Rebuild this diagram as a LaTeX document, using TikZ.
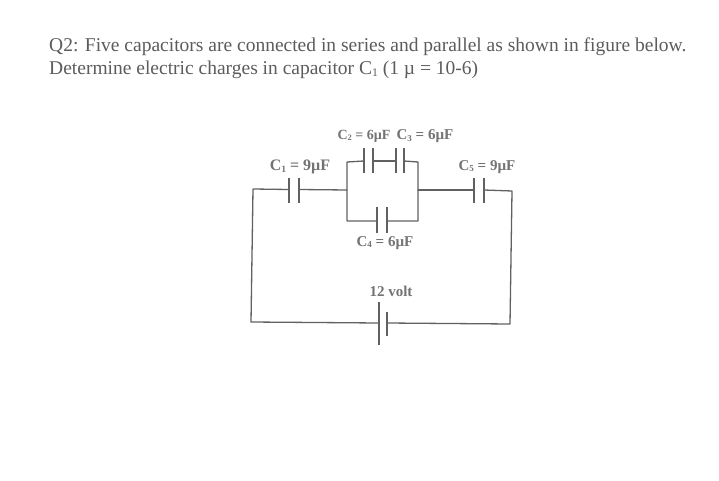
\documentclass[tikz,border=0pt]{standalone}
\usepackage{fontspec}
\setmainfont{Liberation Serif}
\newcommand{\subn}[1]{\raisebox{-0.2ex}{\scalebox{0.6}{#1}}}
\definecolor{inkhead}{gray}{0.36}
\definecolor{inkwire}{gray}{0.38}
\definecolor{inklabel}{gray}{0.45}
\tikzset{
  wire/.style={draw=inkwire,line width=1.3pt,line cap=round,line join=round},
  plate/.style={draw=inkwire,line width=1.3pt,line cap=butt},
  headline/.style={inner sep=0pt,anchor=base west,text=inkhead,font=\fontsize{19.5pt}{22pt}\selectfont},
  caplabel/.style={inner sep=0pt,text=inklabel,font=\fontsize{15pt}{17pt}\selectfont\bfseries},
}
\begin{document}
\begin{tikzpicture}[x=1pt,y=-1pt]
\useasboundingbox (0,0) rectangle (719,481);
\fill[white] (0,0) rectangle (719,481);
% text
\node[headline] (line1) at (49,52) {Q2: Five capacitors are connected in series and parallel as shown in figure below.};
\node[headline] (line2) at (49,75) {Determine electric charges in capacitor C\subn{1} (1 µ = 10-6)};
\node[caplabel,font=\fontsize{16pt}{18pt}\selectfont\bfseries] (c1lab) at (300,167) {C\subn{1} = 9µF};
\node[caplabel,font=\fontsize{14pt}{16pt}\selectfont\bfseries] (c2lab) at (364,136.5) {C\subn{2} = 6µF};
\node[caplabel] (c3lab) at (425,136.5) {C\subn{3} = 6µF};
\node[caplabel] (c4lab) at (385,243) {C\subn{4} = 6µF};
\node[caplabel] (c5lab) at (487,167) {C\subn{5} = 9µF};
\node[caplabel] (vlab) at (391,291) {12 volt};
% corners and junctions
\coordinate (tl) at (253,189);
\coordinate (bl) at (251,322);
\coordinate (tr) at (512,191);
\coordinate (br) at (510,324);
\coordinate (jl) at (347,190);
\coordinate (jr) at (418,190);
\coordinate (jlt) at (347,162);
\coordinate (jrt) at (418,162);
\coordinate (jlb) at (347,221);
\coordinate (jrb) at (418,221);
% plate centres
\coordinate (c1a) at (289,189.5);
\coordinate (c1b) at (299,189.5);
\coordinate (c2a) at (364,161);
\coordinate (c2b) at (373,161);
\coordinate (c3a) at (396,161);
\coordinate (c3b) at (404,161);
\coordinate (c4a) at (377,221);
\coordinate (c4b) at (387,221);
\coordinate (c5a) at (474,190);
\coordinate (c5b) at (484,190);
\coordinate (ba) at (379,323);
\coordinate (bb) at (387,323);
% plates
\foreach \p/\u/\d in {c1a/12/13,c1b/12/13,c2a/13/12,c2b/13/12,c3a/13/12,c3b/13/12,c4a/14/12,c4b/14/12,c5a/12/13,c5b/12/13,ba/21/22,bb/11/13}
  \draw[plate] ([yshift=\u pt]\p) -- ([yshift=-\d pt]\p);
% wires
\draw[wire] (c1a) -- (tl) -- (bl) -- (ba);
\draw[wire] (bb) -- (br) -- (tr) -- (c5b);
\draw[wire] (c1b) -- (jl);
\draw[wire] (c5a) -- (jr);
\draw[wire] (c2a) -- (jlt) -- (jlb) -- (c4a);
\draw[wire] (c2b) -- (c3a);
\draw[wire] (c3b) -- (jrt) -- (jrb) -- (c4b);
\end{tikzpicture}
\end{document}
